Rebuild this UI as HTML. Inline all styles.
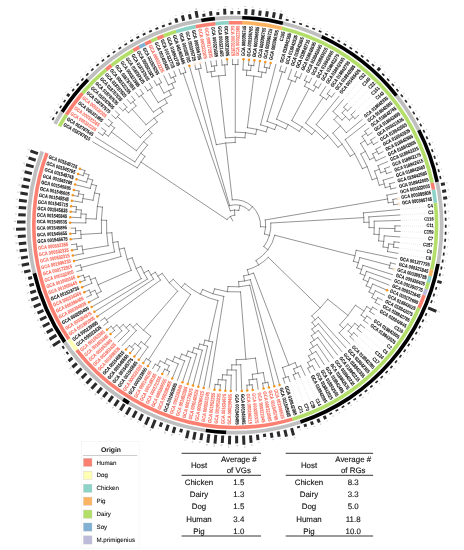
<!DOCTYPE html>
<html><head><meta charset="utf-8"><title>Phylogenetic tree</title>
<style>html,body{margin:0;padding:0;background:#fff}svg{display:block;font-family:"Liberation Sans",sans-serif;text-rendering:geometricPrecision}</style>
</head><body>
<svg width="464" height="550" viewBox="0 0 464 550">
<rect width="464" height="550" fill="#fff"/>
<g transform="translate(235.2 225.1) scale(0.9995 1.0045) translate(-235.2 -225.1)">
<path d="M45.15 152.91A203.3 203.3 0 0 0 67.35 339.81L70.32 337.78A199.7 199.7 0 0 1 48.52 154.19Z" fill="#FB8072"/>
<path d="M67.27 339.69A203.3 203.3 0 0 0 75.32 350.68L78.16 348.46A199.7 199.7 0 0 1 70.25 337.66Z" fill="#FFFFB3"/>
<path d="M75.24 350.57A203.3 203.3 0 0 0 293.14 419.97L292.12 416.52A199.7 199.7 0 0 1 78.07 348.35Z" fill="#FB8072"/>
<path d="M293.01 420.01A203.3 203.3 0 0 0 420.88 307.89L417.59 306.43A199.7 199.7 0 0 1 291.99 416.56Z" fill="#B3DE69"/>
<path d="M420.82 308.02A203.3 203.3 0 0 0 425.96 295.4L422.58 294.16A199.7 199.7 0 0 1 417.53 306.55Z" fill="#FB8072"/>
<path d="M425.91 295.54A203.3 203.3 0 0 0 428.18 289.04L424.77 287.91A199.7 199.7 0 0 1 422.53 294.29Z" fill="#BEBADA"/>
<path d="M428.14 289.17A203.3 203.3 0 0 0 430.2 282.61L426.74 281.59A199.7 199.7 0 0 1 424.72 288.04Z" fill="#B3DE69"/>
<path d="M430.16 282.74A203.3 203.3 0 0 0 432 276.11L428.51 275.2A199.7 199.7 0 0 1 426.71 281.72Z" fill="#8DD3C7"/>
<path d="M431.96 276.24A203.3 203.3 0 0 0 433.58 269.55L430.07 268.77A199.7 199.7 0 0 1 428.48 275.34Z" fill="#FDB462"/>
<path d="M433.55 269.69A203.3 203.3 0 0 0 437.24 202.53L433.67 202.93A199.7 199.7 0 0 1 430.04 268.9Z" fill="#B3DE69"/>
<path d="M437.26 202.68A203.3 203.3 0 0 0 435.3 189.19L431.76 189.83A199.7 199.7 0 0 1 433.68 203.07Z" fill="#8DD3C7"/>
<path d="M435.33 189.33A203.3 203.3 0 0 0 434 182.58L430.48 183.33A199.7 199.7 0 0 1 431.78 189.97Z" fill="#FB8072"/>
<path d="M434.03 182.71A203.3 203.3 0 0 0 282.03 27.27L281.2 30.77A199.7 199.7 0 0 1 430.51 183.47Z" fill="#B3DE69"/>
<path d="M282.16 27.3A203.3 203.3 0 0 0 241.99 21.91L241.87 25.51A199.7 199.7 0 0 1 281.33 30.8Z" fill="#FDB462"/>
<path d="M242.13 21.92A203.3 203.3 0 0 0 228.51 21.91L228.63 25.51A199.7 199.7 0 0 1 242.01 25.52Z" fill="#FB8072"/>
<path d="M228.65 21.91A203.3 203.3 0 0 0 215.05 22.8L215.41 26.38A199.7 199.7 0 0 1 228.77 25.5Z" fill="#8DD3C7"/>
<path d="M215.2 22.79A203.3 203.3 0 0 0 195.06 25.8L195.77 29.33A199.7 199.7 0 0 1 215.55 26.37Z" fill="#FB8072"/>
<path d="M195.2 25.77A203.3 203.3 0 0 0 175.46 30.78L176.52 34.22A199.7 199.7 0 0 1 195.91 29.3Z" fill="#8DD3C7"/>
<path d="M175.6 30.73A203.3 203.3 0 0 0 162.71 35.16L163.99 38.53A199.7 199.7 0 0 1 176.65 34.18Z" fill="#B3DE69"/>
<path d="M162.84 35.11A203.3 203.3 0 0 0 156.45 37.67L157.85 40.99A199.7 199.7 0 0 1 164.12 38.48Z" fill="#FB8072"/>
<path d="M156.58 37.62A203.3 203.3 0 0 0 150.28 40.39L151.78 43.66A199.7 199.7 0 0 1 157.98 40.94Z" fill="#B3DE69"/>
<path d="M150.41 40.33A203.3 203.3 0 0 0 144.2 43.3L145.81 46.52A199.7 199.7 0 0 1 151.91 43.6Z" fill="#FB8072"/>
<path d="M144.33 43.24A203.3 203.3 0 0 0 138.22 46.42L139.94 49.58A199.7 199.7 0 0 1 145.94 46.46Z" fill="#80B1D3"/>
<path d="M138.35 46.35A203.3 203.3 0 0 0 132.35 49.73L134.17 52.84A199.7 199.7 0 0 1 140.06 49.52Z" fill="#FB8072"/>
<path d="M132.47 49.66A203.3 203.3 0 0 0 110.06 64.88L112.27 67.72A199.7 199.7 0 0 1 134.29 52.77Z" fill="#B3DE69"/>
<path d="M110.17 64.79A203.3 203.3 0 0 0 104.81 69.12L107.12 71.88A199.7 199.7 0 0 1 112.38 67.63Z" fill="#FB8072"/>
<path d="M104.92 69.03A203.3 203.3 0 0 0 80.85 92.78L83.59 95.12A199.7 199.7 0 0 1 107.23 71.79Z" fill="#B3DE69"/>
<path d="M80.95 92.67A203.3 203.3 0 0 0 64.71 114.36L67.73 116.32A199.7 199.7 0 0 1 83.68 95.02Z" fill="#FB8072"/>
<path d="M64.79 114.24A203.3 203.3 0 0 0 57.74 125.9L60.89 127.66A199.7 199.7 0 0 1 67.8 116.2Z" fill="#B3DE69"/>
<path d="M40.36 151.16A208.4 208.4 0 0 0 32.49 273.49L36.09 272.63A204.7 204.7 0 0 1 43.82 152.48Z" fill="#BFBFBF"/>
<path d="M32.48 273.42A208.4 208.4 0 0 0 63.14 342.69L66.2 340.6A204.7 204.7 0 0 1 36.08 272.56Z" fill="#000"/>
<path d="M63.1 342.63A208.4 208.4 0 0 0 122.1 400.14L124.11 397.03A204.7 204.7 0 0 1 66.16 340.54Z" fill="#BFBFBF"/>
<path d="M122.04 400.1A208.4 208.4 0 0 0 128.03 403.83L129.93 400.66A204.7 204.7 0 0 1 124.05 396.99Z" fill="#000"/>
<path d="M127.97 403.79A208.4 208.4 0 0 0 205.61 431.39L206.13 427.73A204.7 204.7 0 0 1 129.87 400.62Z" fill="#BFBFBF"/>
<path d="M205.53 431.38A208.4 208.4 0 0 0 226.32 433.31L226.47 429.61A204.7 204.7 0 0 1 206.06 427.72Z" fill="#000"/>
<path d="M226.24 433.31A208.4 208.4 0 0 0 301.12 422.8L299.95 419.29A204.7 204.7 0 0 1 226.4 429.61Z" fill="#BFBFBF"/>
<path d="M301.05 422.82A208.4 208.4 0 0 0 439.96 263.9L436.32 263.21A204.7 204.7 0 0 1 299.88 419.31Z" fill="#000"/>
<path d="M439.94 263.97A208.4 208.4 0 0 0 439.01 181.58L435.39 182.35A204.7 204.7 0 0 1 436.31 263.28Z" fill="#BFBFBF"/>
<path d="M439.02 181.65A208.4 208.4 0 0 0 420.43 129.6L417.14 131.29A204.7 204.7 0 0 1 435.4 182.42Z" fill="#000"/>
<path d="M420.46 129.66A208.4 208.4 0 0 0 397.94 94.92L395.05 97.23A204.7 204.7 0 0 1 417.17 131.35Z" fill="#BFBFBF"/>
<path d="M397.98 94.98A208.4 208.4 0 0 0 322.34 35.79L320.8 39.16A204.7 204.7 0 0 1 395.09 97.29Z" fill="#000"/>
<path d="M322.41 35.82A208.4 208.4 0 0 0 283.27 22.32L282.42 25.92A204.7 204.7 0 0 1 320.86 39.19Z" fill="#BFBFBF"/>
<path d="M283.34 22.34A208.4 208.4 0 0 0 242.16 16.82L242.04 20.51A204.7 204.7 0 0 1 282.49 25.94Z" fill="#000"/>
<path d="M242.23 16.82A208.4 208.4 0 0 0 214.62 17.72L214.99 21.4A204.7 204.7 0 0 1 242.11 20.52Z" fill="#BFBFBF"/>
<path d="M214.69 17.71A208.4 208.4 0 0 0 200.85 19.55L201.46 23.2A204.7 204.7 0 0 1 215.06 21.39Z" fill="#000"/>
<path d="M200.92 19.54A208.4 208.4 0 0 0 86.37 79.22L89.01 81.81A204.7 204.7 0 0 1 201.53 23.19Z" fill="#BFBFBF"/>
<path d="M86.42 79.17A208.4 208.4 0 0 0 60.43 111.58L63.53 113.6A204.7 204.7 0 0 1 89.06 81.76Z" fill="#000"/>
<path d="M60.47 111.52A208.4 208.4 0 0 0 53.33 123.35L56.56 125.16A204.7 204.7 0 0 1 63.57 113.54Z" fill="#BFBFBF"/>
<path d="M37.84 153.93L30.31 151.22M35.59 160.51L28.45 158.2M33.56 167.17L25.87 164.96M31.75 173.89L24.47 172.06M30.16 180.66L23.32 179.18M28.8 187.49L21.42 186.14M27.67 194.35L20.25 193.25M26.76 201.25L18.81 200.34M26.08 208.17L18.61 207.57M25.64 215.12L18.15 214.76M25.42 222.07L16.92 221.95M25.44 229.03L15.94 229.21M25.68 235.98L17.69 236.4M26.16 242.93L18.69 243.56M26.86 249.85L19.42 250.73M27.8 256.74L20.88 257.8M28.96 263.6L21.59 264.98M30.35 270.42L24.01 271.82M31.97 277.19L28.09 278.18M33.81 283.9L29.3 285.22M35.87 290.54L30.17 292.42M38.15 297.12L31.1 299.69M40.64 303.61L33.69 306.42M43.36 310.02L37.41 312.65M46.28 316.34L39.97 319.38M49.41 322.55L42.76 326.04M52.74 328.66L46.65 332.11M56.27 334.65L49.45 338.83M60.01 340.53L52.82 345.26M63.93 346.27L62.3 347.43M68.04 351.88L66.45 353.09M72.34 357.36L68.46 360.51M76.81 362.69L72.28 366.62M81.46 367.86L76.33 372.62M86.28 372.88L81.67 377.46M91.26 377.74L86.46 382.83M96.4 382.43L91.44 388.05M101.7 386.94L97.24 392.34M107.14 391.28L103.17 396.43M112.72 395.44L108.63 401.12M118.43 399.4L114.54 405.22M124.28 403.18L120.31 409.55M130.25 406.76L126.24 413.69M136.33 410.14L132.79 416.76M142.52 413.32L139.43 419.6M148.81 416.29L145.43 423.76M155.2 419.05L151.77 427.37M161.67 421.59L160.06 425.9M168.23 423.92L166.22 429.89M174.86 426.04L173.05 432.07M181.55 427.93L180.61 431.5M188.31 429.59L186.54 437.29M195.12 431.04L193.63 438.69M201.97 432.25L200.86 439.16M208.86 433.24L207.78 441.77M215.77 434L214.98 442.56M222.71 434.53L222.26 442.01M229.66 434.83L229.43 443.42M236.62 434.9L236.67 442.4M243.58 434.73L243.93 443.73M250.52 434.34L251.07 441.82M257.45 433.72L258.02 439.09M264.36 432.86L264.8 436.03M271.23 431.78L272.09 436.71M278.07 430.47L279.17 435.76M284.85 428.94L286.51 435.74M291.58 427.18L293.6 434.41M298.25 425.2L298.86 427.11M304.85 423L305.85 425.83M311.38 420.58L312.65 423.84M317.82 417.95L319.39 421.62M324.17 415.1L325.65 418.27M330.42 412.05L331.19 413.56M336.57 408.79L337.39 410.27M342.6 405.32L343.47 406.78M348.52 401.66L349.44 403.09M354.31 397.81L355.28 399.21M359.97 393.76L360.98 395.13M365.5 389.53L366.55 390.87M370.88 385.12L371.98 386.42M376.11 380.54L377.25 381.79M381.19 375.78L382.37 377M386.1 370.85L387.33 372.03M390.85 365.77L392.12 366.91M395.43 360.53L396.73 361.63M399.84 355.14L401.17 356.2M404.06 349.61L405.43 350.62M408.09 343.94L409.49 344.91M411.94 338.14L413.37 339.06M415.59 332.22L417.05 333.09M419.04 326.18L420.53 327M422.29 320.03L423.81 320.8M425.34 313.77L426.88 314.49M428.18 307.42L436.45 310.95M430.8 300.97L432.38 301.59M433.21 294.45L434.81 295.01M435.4 287.84L437.02 288.35M437.37 281.17L441.71 282.37M439.12 274.43L440.77 274.83M440.64 267.65L442.31 267.99M441.94 260.81L443.61 261.1M443.01 253.93L444.69 254.17M443.85 247.03L445.54 247.21M444.46 240.1L446.16 240.22M444.85 233.15L446.54 233.21M445 226.19L446.7 226.2M444.92 219.23L446.62 219.19M444.61 212.28L446.31 212.18M444.07 205.35L445.76 205.19M443.3 198.43L447.27 197.92M442.3 191.55L446.25 190.91M441.07 184.7L445 183.93M439.62 177.89L441.28 177.51M437.94 171.14L439.58 170.7M436.04 164.45L437.67 163.95M433.92 157.82L435.53 157.27M431.58 151.27L433.17 150.67M429.02 144.8L430.59 144.14M426.25 138.41L427.8 137.71M423.27 132.12L424.8 131.37M420.09 125.94L421.58 125.14M416.7 119.86L418.17 119.01M413.11 113.9L414.55 113M409.32 108.06L410.73 107.12M405.35 102.35L406.72 101.36M401.18 96.78L402.53 95.74M396.84 91.35L398.14 90.26M392.31 86.06L393.58 84.93M387.61 80.93L388.85 79.76M382.75 75.95L383.94 74.74M377.72 71.14L380.1 68.57M372.54 66.5L373.65 65.21M367.2 62.03L368.27 60.71M361.72 57.74L362.75 56.39M356.1 53.64L357.08 52.25M350.35 49.73L351.29 48.31M344.47 46L345.36 44.55M338.47 42.48L339.31 41M332.36 39.15L333.15 37.65M326.14 36.04L326.88 34.5M319.82 33.12L320.51 31.57M313.41 30.42L314.04 28.85M306.91 27.94L307.49 26.34M300.33 25.67L300.86 24.05M293.69 23.62L294.16 21.98M286.97 21.79L287.39 20.14M280.2 20.18L281.42 14.62M273.38 18.8L274.42 13.2M266.52 17.65L267.34 12.21M259.62 16.73L260.23 11.56M252.7 16.03L253.18 10.35M245.76 15.57L246.04 9.87M238.8 15.33L238.86 11.93M231.85 15.33L231.79 11.93M224.89 15.55L224.61 9.76M217.95 16.01L217.7 13.02M211.02 16.7L210.51 12.23M204.13 17.61L203.68 14.65M197.26 18.76L196 11.87M190.44 20.13L189.38 15.24M183.67 21.73L182.32 16.4M176.95 23.55L175.71 19.22M170.3 25.59L169.68 23.69M163.72 27.85L163.04 25.97M157.22 30.33L156.48 28.47M150.81 33.02L150 31.19M144.48 35.93L143.62 34.12M138.26 39.04L137.34 37.27M132.14 42.36L131.16 40.61M126.14 45.87L125.26 44.42M120.26 49.59L119.33 48.17M114.5 53.5L113.52 52.11M108.88 57.59L107.85 56.24M103.39 61.88L102.32 60.55M98.05 66.34L96.94 65.05M92.86 70.97L91.71 69.72M87.83 75.78L86.63 74.57M82.96 80.74L81.72 79.58M78.25 85.87L76.98 84.74M73.72 91.15L72.42 90.07M69.37 96.58L67 94.74M65.2 102.15L63.82 101.16M61.22 107.86L59.81 106.91M57.43 113.69L55.98 112.79M53.83 119.65L52.36 118.79" stroke="#2b2b2b" stroke-width="3.0" fill="none"/>
<g font-size="2" fill="#777" text-anchor="middle" dominant-baseline="central"><text x="28.25" y="150.47" transform="rotate(19.83 28.25 150.47)">13</text><text x="26.36" y="157.53" transform="rotate(17.93 26.36 157.53)">12</text><text x="23.75" y="164.35" transform="rotate(16.03 23.75 164.35)">13</text><text x="22.34" y="171.52" transform="rotate(14.13 22.34 171.52)">12</text><text x="21.17" y="178.71" transform="rotate(12.23 21.17 178.71)">11</text><text x="19.26" y="185.75" transform="rotate(10.33 19.26 185.75)">12</text><text x="18.07" y="192.93" transform="rotate(8.43 18.07 192.93)">12</text><text x="16.63" y="200.09" transform="rotate(6.53 16.63 200.09)">13</text><text x="16.42" y="207.39" transform="rotate(4.63 16.42 207.39)">12</text><text x="15.95" y="214.66" transform="rotate(2.73 15.95 214.66)">12</text><text x="14.72" y="221.92" transform="rotate(0.83 14.72 221.92)">14</text><text x="13.74" y="229.25" transform="rotate(-1.07 13.74 229.25)">15</text><text x="15.5" y="236.51" transform="rotate(-2.97 15.5 236.51)">13</text><text x="16.49" y="243.75" transform="rotate(-4.87 16.49 243.75)">12</text><text x="17.23" y="250.99" transform="rotate(-6.77 17.23 250.99)">12</text><text x="18.71" y="258.13" transform="rotate(-8.67 18.71 258.13)">11</text><text x="19.43" y="265.38" transform="rotate(-10.57 19.43 265.38)">12</text><text x="21.86" y="272.3" transform="rotate(-12.48 21.86 272.3)">10</text><text x="25.96" y="278.73" transform="rotate(-14.38 25.96 278.73)">6</text><text x="27.18" y="285.83" transform="rotate(-16.28 27.18 285.83)">8</text><text x="28.08" y="293.1" transform="rotate(-18.18 28.08 293.1)">10</text><text x="29.04" y="300.45" transform="rotate(-20.08 29.04 300.45)">12</text><text x="31.65" y="307.24" transform="rotate(-21.98 31.65 307.24)">12</text><text x="35.4" y="313.54" transform="rotate(-23.88 35.4 313.54)">10</text><text x="37.99" y="320.34" transform="rotate(-25.78 37.99 320.34)">11</text><text x="40.82" y="327.06" transform="rotate(-27.68 40.82 327.06)">12</text><text x="44.74" y="333.2" transform="rotate(-29.58 44.74 333.2)">11</text><text x="47.58" y="339.98" transform="rotate(-31.48 47.58 339.98)">13</text><text x="50.99" y="346.47" transform="rotate(-33.38 50.99 346.47)">14</text><text x="60.5" y="348.7" transform="rotate(-35.28 60.5 348.7)">3</text><text x="64.7" y="354.42" transform="rotate(-37.18 64.7 354.42)">3</text><text x="66.75" y="361.9" transform="rotate(-39.08 66.75 361.9)">8</text><text x="70.62" y="368.06" transform="rotate(-40.98 70.62 368.06)">10</text><text x="74.72" y="374.12" transform="rotate(-42.88 74.72 374.12)">11</text><text x="80.11" y="379.01" transform="rotate(-44.78 80.11 379.01)">10</text><text x="84.95" y="384.43" transform="rotate(-46.68 84.95 384.43)">11</text><text x="89.99" y="389.7" transform="rotate(-48.58 89.99 389.7)">12</text><text x="95.84" y="394.04" transform="rotate(-50.48 95.84 394.04)">11</text><text x="101.83" y="398.17" transform="rotate(-52.38 101.83 398.17)">10</text><text x="107.35" y="402.91" transform="rotate(-54.28 107.35 402.91)">11</text><text x="113.31" y="407.05" transform="rotate(-56.18 113.31 407.05)">11</text><text x="119.15" y="411.41" transform="rotate(-58.08 119.15 411.41)">12</text><text x="125.14" y="415.59" transform="rotate(-59.98 125.14 415.59)">13</text><text x="131.76" y="418.7" transform="rotate(-61.88 131.76 418.7)">12</text><text x="138.45" y="421.57" transform="rotate(-63.78 138.45 421.57)">11</text><text x="144.53" y="425.77" transform="rotate(-65.68 144.53 425.77)">13</text><text x="150.93" y="429.4" transform="rotate(-67.58 150.93 429.4)">14</text><text x="159.29" y="427.96" transform="rotate(-69.48 159.29 427.96)">7</text><text x="165.52" y="431.98" transform="rotate(-71.38 165.52 431.98)">10</text><text x="172.41" y="434.18" transform="rotate(-73.28 172.41 434.18)">10</text><text x="180.05" y="433.63" transform="rotate(-75.19 180.05 433.63)">6</text><text x="186.05" y="439.44" transform="rotate(-77.09 186.05 439.44)">13</text><text x="193.21" y="440.85" transform="rotate(-78.99 193.21 440.85)">12</text><text x="200.51" y="441.34" transform="rotate(-80.89 200.51 441.34)">11</text><text x="207.5" y="443.95" transform="rotate(-82.79 207.5 443.95)">14</text><text x="214.77" y="444.75" transform="rotate(-84.69 214.77 444.75)">14</text><text x="222.13" y="444.21" transform="rotate(-86.59 222.13 444.21)">12</text><text x="229.38" y="445.62" transform="rotate(-88.49 229.38 445.62)">14</text><text x="236.68" y="444.59" transform="rotate(-270.39 236.68 444.59)">12</text><text x="244.02" y="445.92" transform="rotate(-272.29 244.02 445.92)">14</text><text x="251.23" y="444.01" transform="rotate(-274.19 251.23 444.01)">12</text><text x="258.26" y="441.27" transform="rotate(-276.09 258.26 441.27)">9</text><text x="265.11" y="438.21" transform="rotate(-277.99 265.11 438.21)">5</text><text x="272.47" y="438.88" transform="rotate(-279.89 272.47 438.88)">8</text><text x="279.62" y="437.91" transform="rotate(-281.79 279.62 437.91)">9</text><text x="287.03" y="437.88" transform="rotate(-283.69 287.03 437.88)">11</text><text x="294.19" y="436.52" transform="rotate(-285.59 294.19 436.52)">12</text><text x="299.52" y="429.21" transform="rotate(-287.49 299.52 429.21)">3</text><text x="306.58" y="427.9" transform="rotate(-289.39 306.58 427.9)">5</text><text x="313.45" y="425.89" transform="rotate(-291.29 313.45 425.89)">6</text><text x="320.26" y="423.65" transform="rotate(-293.19 320.26 423.65)">6</text><text x="326.59" y="420.26" transform="rotate(-295.09 326.59 420.26)">6</text><text x="332.19" y="415.52" transform="rotate(-296.99 332.19 415.52)">3</text><text x="338.45" y="412.2" transform="rotate(-298.89 338.45 412.2)">3</text><text x="344.6" y="408.67" transform="rotate(-300.79 344.6 408.67)">3</text><text x="350.63" y="404.95" transform="rotate(-302.69 350.63 404.95)">3</text><text x="356.53" y="401.02" transform="rotate(-304.59 356.53 401.02)">3</text><text x="362.29" y="396.9" transform="rotate(-306.49 362.29 396.9)">3</text><text x="367.92" y="392.59" transform="rotate(-308.39 367.92 392.59)">3</text><text x="373.4" y="388.1" transform="rotate(-310.29 373.4 388.1)">3</text><text x="378.73" y="383.42" transform="rotate(-312.19 378.73 383.42)">3</text><text x="383.9" y="378.58" transform="rotate(-314.09 383.9 378.58)">3</text><text x="388.91" y="373.56" transform="rotate(-315.99 388.91 373.56)">3</text><text x="393.75" y="368.38" transform="rotate(-317.9 393.75 368.38)">3</text><text x="398.41" y="363.05" transform="rotate(-319.8 398.41 363.05)">3</text><text x="402.9" y="357.56" transform="rotate(-321.7 402.9 357.56)">3</text><text x="407.2" y="351.93" transform="rotate(-323.6 407.2 351.93)">3</text><text x="411.31" y="346.15" transform="rotate(-325.5 411.31 346.15)">3</text><text x="415.23" y="340.25" transform="rotate(-327.4 415.23 340.25)">3</text><text x="418.94" y="334.21" transform="rotate(-329.3 418.94 334.21)">3</text><text x="422.46" y="328.06" transform="rotate(-331.2 422.46 328.06)">3</text><text x="425.77" y="321.79" transform="rotate(-333.1 425.77 321.79)">3</text><text x="428.87" y="315.42" transform="rotate(-335 428.87 315.42)">3</text><text x="438.48" y="311.81" transform="rotate(-336.9 438.48 311.81)">14</text><text x="434.44" y="302.38" transform="rotate(-338.8 434.44 302.38)">3</text><text x="436.89" y="295.74" transform="rotate(-340.7 436.89 295.74)">3</text><text x="439.12" y="289.01" transform="rotate(-342.6 439.12 289.01)">3</text><text x="443.83" y="282.96" transform="rotate(-344.5 443.83 282.96)">7</text><text x="442.91" y="275.35" transform="rotate(-346.4 442.91 275.35)">3</text><text x="444.46" y="268.44" transform="rotate(-348.3 444.46 268.44)">3</text><text x="445.78" y="261.47" transform="rotate(-350.2 445.78 261.47)">3</text><text x="446.87" y="254.47" transform="rotate(-352.1 446.87 254.47)">3</text><text x="447.73" y="247.43" transform="rotate(-354 447.73 247.43)">3</text><text x="448.35" y="240.38" transform="rotate(-355.9 448.35 240.38)">3</text><text x="448.74" y="233.3" transform="rotate(-357.8 448.74 233.3)">3</text><text x="448.9" y="226.21" transform="rotate(-359.7 448.9 226.21)">3</text><text x="448.82" y="219.13" transform="rotate(-361.6 448.82 219.13)">3</text><text x="448.5" y="212.05" transform="rotate(-363.5 448.5 212.05)">3</text><text x="447.95" y="204.98" transform="rotate(-365.4 447.95 204.98)">3</text><text x="449.45" y="197.64" transform="rotate(-367.3 449.45 197.64)">6</text><text x="448.42" y="190.55" transform="rotate(-369.2 448.42 190.55)">6</text><text x="447.16" y="183.5" transform="rotate(-371.1 447.16 183.5)">6</text><text x="443.42" y="177.01" transform="rotate(-373 443.42 177.01)">3</text><text x="441.71" y="170.14" transform="rotate(-374.9 441.71 170.14)">3</text><text x="439.77" y="163.32" transform="rotate(-376.8 439.77 163.32)">3</text><text x="437.61" y="156.57" transform="rotate(-378.7 437.61 156.57)">3</text><text x="435.23" y="149.89" transform="rotate(-380.6 435.23 149.89)">3</text><text x="432.63" y="143.3" transform="rotate(-382.51 432.63 143.3)">3</text><text x="429.8" y="136.8" transform="rotate(-384.41 429.8 136.8)">3</text><text x="426.77" y="130.4" transform="rotate(-386.31 426.77 130.4)">3</text><text x="423.52" y="124.1" transform="rotate(-388.21 423.52 124.1)">3</text><text x="420.07" y="117.91" transform="rotate(-390.11 420.07 117.91)">3</text><text x="416.41" y="111.83" transform="rotate(-392.01 416.41 111.83)">3</text><text x="412.56" y="105.89" transform="rotate(-393.91 412.56 105.89)">3</text><text x="408.51" y="100.07" transform="rotate(-395.81 408.51 100.07)">3</text><text x="404.27" y="94.39" transform="rotate(-397.71 404.27 94.39)">3</text><text x="399.84" y="88.86" transform="rotate(-399.61 399.84 88.86)">3</text><text x="395.23" y="83.48" transform="rotate(-401.51 395.23 83.48)">3</text><text x="390.45" y="78.25" transform="rotate(-403.41 390.45 78.25)">3</text><text x="385.49" y="73.18" transform="rotate(-405.31 385.49 73.18)">3</text><text x="381.59" y="66.96" transform="rotate(-407.21 381.59 66.96)">6</text><text x="375.09" y="63.55" transform="rotate(-409.11 375.09 63.55)">3</text><text x="369.66" y="59" transform="rotate(-411.01 369.66 59)">3</text><text x="364.08" y="54.63" transform="rotate(-412.91 364.08 54.63)">3</text><text x="358.35" y="50.45" transform="rotate(-414.81 358.35 50.45)">3</text><text x="352.49" y="46.47" transform="rotate(-416.71 352.49 46.47)">3</text><text x="346.5" y="42.67" transform="rotate(-418.61 346.5 42.67)">3</text><text x="340.39" y="39.08" transform="rotate(-420.51 340.39 39.08)">3</text><text x="334.17" y="35.7" transform="rotate(-422.41 334.17 35.7)">3</text><text x="327.83" y="32.52" transform="rotate(-424.31 327.83 32.52)">3</text><text x="321.4" y="29.55" transform="rotate(-426.21 321.4 29.55)">3</text><text x="314.86" y="26.8" transform="rotate(-428.11 314.86 26.8)">3</text><text x="308.25" y="24.27" transform="rotate(-430.01 308.25 24.27)">3</text><text x="301.55" y="21.96" transform="rotate(-431.91 301.55 21.96)">3</text><text x="294.77" y="19.87" transform="rotate(-433.81 294.77 19.87)">3</text><text x="287.93" y="18.01" transform="rotate(-435.71 287.93 18.01)">3</text><text x="281.9" y="12.47" transform="rotate(-437.61 281.9 12.47)">9</text><text x="274.82" y="11.04" transform="rotate(-439.51 274.82 11.04)">9</text><text x="267.67" y="10.04" transform="rotate(-441.41 267.67 10.04)">9</text><text x="260.48" y="9.38" transform="rotate(-443.31 260.48 9.38)">8</text><text x="253.36" y="8.16" transform="rotate(-445.22 253.36 8.16)">9</text><text x="246.16" y="7.68" transform="rotate(-447.12 246.16 7.68)">9</text><text x="238.9" y="9.73" transform="rotate(-449.02 238.9 9.73)">5</text><text x="231.76" y="9.73" transform="rotate(-270.92 231.76 9.73)">5</text><text x="224.5" y="7.56" transform="rotate(-272.82 224.5 7.56)">9</text><text x="217.52" y="10.83" transform="rotate(-274.72 217.52 10.83)">5</text><text x="210.25" y="10.04" transform="rotate(-276.62 210.25 10.04)">7</text><text x="203.36" y="12.47" transform="rotate(-278.52 203.36 12.47)">5</text><text x="195.6" y="9.71" transform="rotate(-280.42 195.6 9.71)">11</text><text x="188.91" y="13.1" transform="rotate(-282.32 188.91 13.1)">8</text><text x="181.78" y="14.26" transform="rotate(-284.22 181.78 14.26)">9</text><text x="175.09" y="17.11" transform="rotate(-286.12 175.09 17.11)">7</text><text x="169" y="21.6" transform="rotate(-288.02 169 21.6)">3</text><text x="162.29" y="23.9" transform="rotate(-289.92 162.29 23.9)">3</text><text x="155.66" y="26.43" transform="rotate(-291.82 155.66 26.43)">3</text><text x="149.12" y="29.18" transform="rotate(-293.72 149.12 29.18)">3</text><text x="142.67" y="32.14" transform="rotate(-295.62 142.67 32.14)">3</text><text x="136.32" y="35.31" transform="rotate(-297.52 136.32 35.31)">3</text><text x="130.08" y="38.7" transform="rotate(-299.42 130.08 38.7)">3</text><text x="124.11" y="42.54" transform="rotate(-301.32 124.11 42.54)">3</text><text x="118.12" y="46.33" transform="rotate(-303.22 118.12 46.33)">3</text><text x="112.26" y="50.31" transform="rotate(-305.12 112.26 50.31)">3</text><text x="106.53" y="54.48" transform="rotate(-307.02 106.53 54.48)">3</text><text x="100.94" y="58.84" transform="rotate(-308.92 100.94 58.84)">3</text><text x="95.5" y="63.38" transform="rotate(-310.82 95.5 63.38)">3</text><text x="90.22" y="68.11" transform="rotate(-312.72 90.22 68.11)">3</text><text x="85.09" y="73" transform="rotate(-314.62 85.09 73)">3</text><text x="80.13" y="78.06" transform="rotate(-316.52 80.13 78.06)">3</text><text x="75.34" y="83.28" transform="rotate(-318.42 75.34 83.28)">3</text><text x="70.72" y="88.66" transform="rotate(-320.32 70.72 88.66)">3</text><text x="65.26" y="93.4" transform="rotate(-322.22 65.26 93.4)">5</text><text x="62.04" y="99.87" transform="rotate(-324.12 62.04 99.87)">3</text><text x="57.98" y="105.68" transform="rotate(-326.02 57.98 105.68)">3</text><text x="54.12" y="111.62" transform="rotate(-327.93 54.12 111.62)">3</text><text x="50.46" y="117.69" transform="rotate(-329.83 50.46 117.69)">3</text></g>
<path d="M289.98 380.74L298.17 404.01M295.11 378.84L304.07 401.83M300.18 376.77L309.89 399.45M305.17 374.53L315.63 396.87M353.88 339.73L371.63 356.87M357.62 335.73L374.25 350.76M361.22 331.61L381.78 348.99M364.68 327.37L385.81 344.06M374.2 314.01L393.09 326.09M397.79 253.18L424.32 257.77M398.63 247.78L425.3 251.48M399.3 242.35L421.59 244.69M399.78 236.89L426.63 238.82M400.08 231.43L422.48 232.29M400.2 225.96L424.87 226.09M400.14 220.49L422.55 219.86M399.89 215.02L426.77 213.38M399.47 209.56L426.27 207.03M358.76 115.75L375.55 100.89M355.07 111.71L371.36 96.31M351.24 107.8L368.59 90.26M347.29 104.02L362.52 87.56M343.21 100.37L359.36 81.72M275.92 65.2L281.45 43.48" stroke="#bdbdbd" stroke-width="0.45" stroke-dasharray="0.7 1.3" fill="none"/>
<g font-size="5.0" font-weight="bold" dominant-baseline="central" stroke-width="0.08"><g fill="#0d0d0d" stroke="#0d0d0d"><text transform="translate(48.38 157.73) rotate(19.83) scale(0.81 1)">GCA 001545725</text><text transform="translate(46.24 163.96) rotate(17.93) scale(0.81 1)">GCA 001545795</text><text transform="translate(44.32 170.26) rotate(16.03) scale(0.81 1)">GCA 001545745</text><text transform="translate(42.61 176.62) rotate(14.13) scale(0.81 1)">GCA 001545785</text><text transform="translate(41.11 183.03) rotate(12.23) scale(0.81 1)">GCA 001545695</text><text transform="translate(39.82 189.49) rotate(10.33) scale(0.81 1)">GCA 001545605</text><text transform="translate(38.74 195.99) rotate(8.43) scale(0.81 1)">GCA 001545545</text><text transform="translate(37.89 202.52) rotate(6.53) scale(0.81 1)">GCA 001545715</text><text transform="translate(37.25 209.08) rotate(4.63) scale(0.81 1)">GCA 001545835</text><text transform="translate(36.82 215.65) rotate(2.73) scale(0.81 1)">GCA 001545845</text><text transform="translate(36.62 222.23) rotate(0.83) scale(0.81 1)">GCA 001545535</text><text transform="translate(36.63 228.82) rotate(-1.07) scale(0.81 1)">GCA 001545895</text><text transform="translate(36.87 235.4) rotate(-2.97) scale(0.81 1)">GCA 001545655</text><text transform="translate(37.32 241.97) rotate(-4.87) scale(0.81 1)">GCA 001545675</text><text transform="translate(51.03 299.42) rotate(-21.98) scale(0.81 1)">GCA 001518735</text><text transform="translate(62.48 323.13) rotate(-29.58) scale(0.81 1)">GCA 000295405</text><text transform="translate(73.07 339.8) rotate(-35.28) scale(0.81 1)">GCA 000239095</text><text transform="translate(76.97 345.12) rotate(-37.18) scale(0.81 1)">GCA 000322425</text><text transform="translate(103.81 374.03) rotate(-48.58) scale(0.81 1)">GCA 001545815</text><text transform="translate(108.82 378.3) rotate(-50.48) scale(0.81 1)">GCA 001545555</text><text transform="translate(113.97 382.41) rotate(-52.38) scale(0.81 1)">GCA 001545775</text><text transform="translate(119.26 386.34) rotate(-54.28) scale(0.81 1)">GCA 001545685</text><text transform="translate(130.2 393.67) rotate(-58.08) scale(0.81 1)">GCA 000321865</text><text transform="translate(165.6 411.1) rotate(-69.48) scale(0.81 1)">GCA 001993665</text><text transform="translate(236.54 423.7) rotate(-270.39) scale(0.81 1)" text-anchor="end">GCA 001545495</text><text transform="translate(243.13 423.54) rotate(-272.29) scale(0.81 1)" text-anchor="end">GCA 001545995</text><text transform="translate(288.57 416.39) rotate(-285.59) scale(0.81 1)" text-anchor="end">GCA 001545865</text><text transform="translate(294.89 414.52) rotate(-287.49) scale(0.81 1)" text-anchor="end">GCA 018842985</text><text transform="translate(301.14 412.43) rotate(-289.39) scale(0.81 1)" text-anchor="end">C71</text><text transform="translate(307.31 410.15) rotate(-291.29) scale(0.81 1)" text-anchor="end">C70</text><text transform="translate(313.41 407.65) rotate(-293.19) scale(0.81 1)" text-anchor="end">C29</text><text transform="translate(319.42 404.96) rotate(-295.09) scale(0.81 1)" text-anchor="end">C14</text><text transform="translate(325.34 402.07) rotate(-296.99) scale(0.81 1)" text-anchor="end">GCA 018842985</text><text transform="translate(331.16 398.98) rotate(-298.89) scale(0.81 1)" text-anchor="end">GCA 018842025</text><text transform="translate(336.87 395.7) rotate(-300.79) scale(0.81 1)" text-anchor="end">GCA 018842545</text><text transform="translate(342.47 392.24) rotate(-302.69) scale(0.81 1)" text-anchor="end">GCA 018842485</text><text transform="translate(347.95 388.59) rotate(-304.59) scale(0.81 1)" text-anchor="end">GCA 018842575</text><text transform="translate(353.31 384.76) rotate(-306.49) scale(0.81 1)" text-anchor="end">GCA 018842235</text><text transform="translate(358.54 380.76) rotate(-308.39) scale(0.81 1)" text-anchor="end">GCA 018842215</text><text transform="translate(363.64 376.58) rotate(-310.29) scale(0.81 1)" text-anchor="end">GCA 018842355</text><text transform="translate(368.59 372.24) rotate(-312.19) scale(0.81 1)" text-anchor="end">GCA 018842385</text><text transform="translate(373.39 367.73) rotate(-314.09) scale(0.81 1)" text-anchor="end">GCA 018842395</text><text transform="translate(378.05 363.07) rotate(-315.99) scale(0.81 1)" text-anchor="end">C17</text><text transform="translate(382.54 358.26) rotate(-317.9) scale(0.81 1)" text-anchor="end">C134</text><text transform="translate(386.88 353.3) rotate(-319.8) scale(0.81 1)" text-anchor="end">C5</text><text transform="translate(391.05 348.2) rotate(-321.7) scale(0.81 1)" text-anchor="end">C2</text><text transform="translate(395.04 342.96) rotate(-323.6) scale(0.81 1)" text-anchor="end">GCA 018842525</text><text transform="translate(398.86 337.6) rotate(-325.5) scale(0.81 1)" text-anchor="end">GCA 018842505</text><text transform="translate(402.5 332.11) rotate(-327.4) scale(0.81 1)" text-anchor="end">C136</text><text transform="translate(405.96 326.5) rotate(-329.3) scale(0.81 1)" text-anchor="end">GCA 018842845</text><text transform="translate(409.23 320.78) rotate(-331.2) scale(0.81 1)" text-anchor="end">GCA 018842785</text><text transform="translate(412.31 314.96) rotate(-333.1) scale(0.81 1)" text-anchor="end">GCA 018842075</text><text transform="translate(415.19 309.04) rotate(-335) scale(0.81 1)" text-anchor="end">GCA 018843025</text><text transform="translate(417.87 303.02) rotate(-336.9) scale(0.81 1)" text-anchor="end">GCA 000172655</text><text transform="translate(420.36 296.92) rotate(-338.8) scale(0.81 1)" text-anchor="end">GCA 000321645</text><text transform="translate(422.64 290.74) rotate(-340.7) scale(0.81 1)" text-anchor="end">GCA 001290775</text><text transform="translate(424.71 284.49) rotate(-342.6) scale(0.81 1)" text-anchor="end">GCA 000336405</text><text transform="translate(426.58 278.18) rotate(-344.5) scale(0.81 1)" text-anchor="end">GCA 000395785</text><text transform="translate(428.23 271.8) rotate(-346.4) scale(0.81 1)" text-anchor="end">GCA 000321845</text><text transform="translate(429.67 265.37) rotate(-348.3) scale(0.81 1)" text-anchor="end">GCA 001277795</text><text transform="translate(430.9 258.9) rotate(-350.2) scale(0.81 1)" text-anchor="end">C8</text><text transform="translate(431.92 252.39) rotate(-352.1) scale(0.81 1)" text-anchor="end">C6</text><text transform="translate(432.71 245.86) rotate(-354) scale(0.81 1)" text-anchor="end">C157</text><text transform="translate(433.29 239.3) rotate(-355.9) scale(0.81 1)" text-anchor="end">C7</text><text transform="translate(433.65 232.72) rotate(-357.8) scale(0.81 1)" text-anchor="end">C159</text><text transform="translate(433.8 226.13) rotate(-359.7) scale(0.81 1)" text-anchor="end">C11</text><text transform="translate(433.72 219.55) rotate(-361.6) scale(0.81 1)" text-anchor="end">C116</text><text transform="translate(433.43 212.97) rotate(-363.5) scale(0.81 1)" text-anchor="end">C3</text><text transform="translate(432.92 206.4) rotate(-365.4) scale(0.81 1)" text-anchor="end">C4</text><text transform="translate(432.19 199.86) rotate(-367.3) scale(0.81 1)" text-anchor="end">GCA 000395745</text><text transform="translate(431.24 193.34) rotate(-369.2) scale(0.81 1)" text-anchor="end">GCA 000395805</text><text transform="translate(430.08 186.85) rotate(-371.1) scale(0.81 1)" text-anchor="end">GCA 000322005</text><text transform="translate(428.71 180.41) rotate(-373) scale(0.81 1)" text-anchor="end">GCA 018842605</text><text transform="translate(427.12 174.02) rotate(-374.9) scale(0.81 1)" text-anchor="end">GCA 018842585</text><text transform="translate(425.32 167.68) rotate(-376.8) scale(0.81 1)" text-anchor="end">GCA 018842665</text><text transform="translate(423.31 161.41) rotate(-378.7) scale(0.81 1)" text-anchor="end">GCA 018842615</text><text transform="translate(421.1 155.21) rotate(-380.6) scale(0.81 1)" text-anchor="end">GCA 018842175</text><text transform="translate(418.68 149.08) rotate(-382.51) scale(0.81 1)" text-anchor="end">GCA 018842225</text><text transform="translate(416.05 143.04) rotate(-384.41) scale(0.81 1)" text-anchor="end">GCA 018842905</text><text transform="translate(413.23 137.09) rotate(-386.31) scale(0.81 1)" text-anchor="end">GCA 018842985</text><text transform="translate(410.22 131.23) rotate(-388.21) scale(0.81 1)" text-anchor="end">GCA 018842925</text><text transform="translate(407.01 125.48) rotate(-390.11) scale(0.81 1)" text-anchor="end">GCA 018842565</text><text transform="translate(403.61 119.84) rotate(-392.01) scale(0.81 1)" text-anchor="end">GCA 000431635</text><text transform="translate(400.03 114.31) rotate(-393.91) scale(0.81 1)" text-anchor="end">GCA 018842695</text><text transform="translate(396.26 108.91) rotate(-395.81) scale(0.81 1)" text-anchor="end">GCA 018842765</text><text transform="translate(392.32 103.63) rotate(-397.71) scale(0.81 1)" text-anchor="end">GCA 018842685</text><text transform="translate(388.21 98.49) rotate(-399.61) scale(0.81 1)" text-anchor="end">GCA 018842935</text><text transform="translate(383.92 93.48) rotate(-401.51) scale(0.81 1)" text-anchor="end">C143</text><text transform="translate(379.48 88.62) rotate(-403.41) scale(0.81 1)" text-anchor="end">C151</text><text transform="translate(374.87 83.91) rotate(-405.31) scale(0.81 1)" text-anchor="end">C22</text><text transform="translate(370.11 79.36) rotate(-407.21) scale(0.81 1)" text-anchor="end">C149</text><text transform="translate(365.21 74.97) rotate(-409.11) scale(0.81 1)" text-anchor="end">C52</text><text transform="translate(360.16 70.74) rotate(-411.01) scale(0.81 1)" text-anchor="end">GCA 001465425</text><text transform="translate(354.97 66.68) rotate(-412.91) scale(0.81 1)" text-anchor="end">GCA 018842685</text><text transform="translate(349.65 62.79) rotate(-414.81) scale(0.81 1)" text-anchor="end">GCA 018842795</text><text transform="translate(344.21 59.09) rotate(-416.71) scale(0.81 1)" text-anchor="end">GCA 018842535</text><text transform="translate(338.64 55.57) rotate(-418.61) scale(0.81 1)" text-anchor="end">GCA 018842275</text><text transform="translate(332.96 52.23) rotate(-420.51) scale(0.81 1)" text-anchor="end">GCA 018842945</text><text transform="translate(327.18 49.08) rotate(-422.41) scale(0.81 1)" text-anchor="end">GCA 018843015</text><text transform="translate(321.29 46.13) rotate(-424.31) scale(0.81 1)" text-anchor="end">GCA 018842005</text><text transform="translate(315.31 43.37) rotate(-426.21) scale(0.81 1)" text-anchor="end">GCA 018842695</text><text transform="translate(309.24 40.82) rotate(-428.11) scale(0.81 1)" text-anchor="end">GCA 018842715</text><text transform="translate(303.08 38.46) rotate(-430.01) scale(0.81 1)" text-anchor="end">GCA 018842665</text><text transform="translate(296.86 36.31) rotate(-431.91) scale(0.81 1)" text-anchor="end">GCA 018842925</text><text transform="translate(290.56 34.37) rotate(-433.81) scale(0.81 1)" text-anchor="end">GCA 018842155</text><text transform="translate(284.21 32.64) rotate(-435.71) scale(0.81 1)" text-anchor="end">C155</text><text transform="translate(277.8 31.12) rotate(-437.61) scale(0.81 1)" text-anchor="end">GCA 000396705</text><text transform="translate(271.34 29.82) rotate(-439.51) scale(0.81 1)" text-anchor="end">GCA 000396725</text><text transform="translate(264.85 28.73) rotate(-441.41) scale(0.81 1)" text-anchor="end">GCA 000396755</text><text transform="translate(258.32 27.85) rotate(-443.31) scale(0.81 1)" text-anchor="end">GCA 000396685</text><text transform="translate(251.77 27.19) rotate(-445.22) scale(0.81 1)" text-anchor="end">GCA 000396765</text><text transform="translate(245.19 26.75) rotate(-447.12) scale(0.81 1)" text-anchor="end">GCA 000396745</text><text transform="translate(225.44 26.74) rotate(-272.82) scale(0.81 1)">GCA 000321005</text><text transform="translate(218.87 27.17) rotate(-274.72) scale(0.81 1)">GCA 000321465</text><text transform="translate(212.32 27.82) rotate(-276.62) scale(0.81 1)">GCA 000321685</text><text transform="translate(192.83 31.07) rotate(-282.32) scale(0.81 1)">GCA 000396765</text><text transform="translate(186.42 32.58) rotate(-284.22) scale(0.81 1)">GCA 000395725</text><text transform="translate(180.06 34.31) rotate(-286.12) scale(0.81 1)">GCA 000395705</text><text transform="translate(173.77 36.24) rotate(-288.02) scale(0.81 1)">GCA 001465445</text><text transform="translate(167.54 38.38) rotate(-289.92) scale(0.81 1)">GCA 018842705</text><text transform="translate(161.38 40.73) rotate(-291.82) scale(0.81 1)">GCA 000322705</text><text transform="translate(155.31 43.28) rotate(-293.72) scale(0.81 1)">GCA 001405435</text><text transform="translate(143.43 48.97) rotate(-297.52) scale(0.81 1)">GCA 001525255</text><text transform="translate(137.64 52.11) rotate(-299.42) scale(0.81 1)">GCA 000321925</text><text transform="translate(131.96 55.44) rotate(-301.32) scale(0.81 1)">GCA 018787645</text><text transform="translate(126.39 58.96) rotate(-303.22) scale(0.81 1)">GCA 018787675</text><text transform="translate(120.94 62.66) rotate(-305.12) scale(0.81 1)">GCA 000321985</text><text transform="translate(115.62 66.54) rotate(-307.02) scale(0.81 1)">GCA 018787655</text><text transform="translate(110.43 70.59) rotate(-308.92) scale(0.81 1)">GCA 000322205</text><text transform="translate(105.37 74.81) rotate(-310.82) scale(0.81 1)">GCA 018787625</text><text transform="translate(100.46 79.2) rotate(-312.72) scale(0.81 1)">GCA 018787635</text><text transform="translate(95.7 83.75) rotate(-314.62) scale(0.81 1)">GCA 018787535</text><text transform="translate(91.09 88.45) rotate(-316.52) scale(0.81 1)">GCA 018787605</text><text transform="translate(86.63 93.31) rotate(-318.42) scale(0.81 1)">GCA 018787575</text><text transform="translate(78.22 103.44) rotate(-322.22) scale(0.81 1)">GCA 000321865</text><text transform="translate(66.92 119.64) rotate(-327.93) scale(0.81 1)">GCA 018787545</text><text transform="translate(63.51 125.28) rotate(-329.83) scale(0.81 1)">GCA 018787615</text></g><g fill="#F96C5E" stroke="#F96C5E" stroke-width="0.1"><text transform="translate(37.99 248.53) rotate(-6.77) scale(0.81 1)">GCA 000632355</text><text transform="translate(38.87 255.05) rotate(-8.67) scale(0.81 1)">GCA 000632335</text><text transform="translate(39.97 261.55) rotate(-10.57) scale(0.81 1)">GCA 000632315</text><text transform="translate(41.29 268) rotate(-12.48) scale(0.81 1)">GCA 001996235</text><text transform="translate(42.82 274.41) rotate(-14.38) scale(0.81 1)">GCA 000172915</text><text transform="translate(44.56 280.76) rotate(-16.28) scale(0.81 1)">GCA 000322405</text><text transform="translate(46.51 287.05) rotate(-18.18) scale(0.81 1)">GCA 001969545</text><text transform="translate(48.67 293.27) rotate(-20.08) scale(0.81 1)">GCA 001969645</text><text transform="translate(53.6 305.49) rotate(-23.88) scale(0.81 1)">GCA 000534365</text><text transform="translate(56.36 311.47) rotate(-25.78) scale(0.81 1)">GCA 000396405</text><text transform="translate(59.32 317.35) rotate(-27.68) scale(0.81 1)">GCA 000394835</text><text transform="translate(65.83 328.8) rotate(-31.48) scale(0.81 1)">GCA 000294875</text><text transform="translate(69.36 334.36) rotate(-33.38) scale(0.81 1)">GCA 001991905</text><text transform="translate(81.03 350.3) rotate(-39.08) scale(0.81 1)">GCA 001953385</text><text transform="translate(85.27 355.34) rotate(-40.98) scale(0.81 1)">GCA 001953445</text><text transform="translate(89.67 360.24) rotate(-42.88) scale(0.81 1)">GCA 001953465</text><text transform="translate(94.23 364.99) rotate(-44.78) scale(0.81 1)">GCA 001953425</text><text transform="translate(98.95 369.59) rotate(-46.68) scale(0.81 1)">GCA 001998935</text><text transform="translate(124.67 390.1) rotate(-56.18) scale(0.81 1)">GCA 000322205</text><text transform="translate(135.85 397.06) rotate(-59.98) scale(0.81 1)">GCA 000146155</text><text transform="translate(141.61 400.26) rotate(-61.88) scale(0.81 1)">GCA 000148185</text><text transform="translate(147.47 403.27) rotate(-63.78) scale(0.81 1)">GCA 000172155</text><text transform="translate(153.42 406.08) rotate(-65.68) scale(0.81 1)">GCA 000260555</text><text transform="translate(159.47 408.69) rotate(-67.58) scale(0.81 1)">GCA 000295855</text><text transform="translate(171.8 413.31) rotate(-71.38) scale(0.81 1)">GCA 000235845</text><text transform="translate(178.08 415.31) rotate(-73.28) scale(0.81 1)">GCA 001953285</text><text transform="translate(184.42 417.1) rotate(-75.19) scale(0.81 1)">GCA 000172675</text><text transform="translate(190.81 418.68) rotate(-77.09) scale(0.81 1)">GCA 000148625</text><text transform="translate(197.26 420.04) rotate(-78.99) scale(0.81 1)">GCA 000295415</text><text transform="translate(203.74 421.19) rotate(-80.89) scale(0.81 1)">GCA 000321545</text><text transform="translate(210.26 422.13) rotate(-82.79) scale(0.81 1)">GCA 001952255</text><text transform="translate(216.81 422.85) rotate(-84.69) scale(0.81 1)">GCA 001952235</text><text transform="translate(223.38 423.35) rotate(-86.59) scale(0.81 1)">GCA 001634675</text><text transform="translate(229.96 423.63) rotate(-88.49) scale(0.81 1)">GCA 000299495</text><text transform="translate(249.7 423.17) rotate(-274.19) scale(0.81 1)" text-anchor="end">GCA 000296215</text><text transform="translate(256.26 422.58) rotate(-276.09) scale(0.81 1)" text-anchor="end">GCA 000295375</text><text transform="translate(262.8 421.77) rotate(-277.99) scale(0.81 1)" text-anchor="end">GCA 000322345</text><text transform="translate(269.31 420.75) rotate(-279.89) scale(0.81 1)" text-anchor="end">GCA 000322085</text><text transform="translate(275.78 419.51) rotate(-281.79) scale(0.81 1)" text-anchor="end">GCA 001545795</text><text transform="translate(282.2 418.06) rotate(-283.69) scale(0.81 1)" text-anchor="end">GCA 001906515</text><text transform="translate(238.61 26.53) rotate(-449.02) scale(0.81 1)" text-anchor="end">GCA 000322385</text><text transform="translate(232.02 26.53) rotate(-270.92) scale(0.81 1)">GCA 000321925</text><text transform="translate(205.79 28.69) rotate(-278.52) scale(0.81 1)">GCA 000172835</text><text transform="translate(199.29 29.77) rotate(-280.42) scale(0.81 1)">GCA 000322105</text><text transform="translate(149.33 46.03) rotate(-295.62) scale(0.81 1)">GCA 000322235</text><text transform="translate(82.34 98.3) rotate(-320.32) scale(0.81 1)">GCA 000322305</text><text transform="translate(74.28 108.72) rotate(-324.12) scale(0.81 1)">GCA 000322265</text><text transform="translate(70.51 114.12) rotate(-326.02) scale(0.81 1)">GCA 000322225</text></g></g>
<path d="M234.74 215.21A9.9 9.9 0 0 0 226.96 219.61M234.74 215.21L234.5 210.05M238.76 210.46A15.07 15.07 0 0 0 230.3 210.85M238.76 210.46L239.98 205.43M249.12 210.41A20.24 20.24 0 0 0 229.58 205.66M249.12 210.41L252.68 206.66M260.56 226.67A25.41 25.41 0 0 0 232.27 199.86M260.56 226.67L265.72 226.99M264.48 233.93A30.58 30.58 0 0 0 265.34 219.96M264.48 233.93L269.43 235.42M263.8 246.54A35.75 35.75 0 0 0 270.89 223.04M263.8 246.54L267.94 249.65M256.02 260.33A40.92 40.92 0 0 0 274.85 235.21M256.02 260.33L258.65 264.78M247.36 269.56A46.09 46.09 0 0 0 268.29 257.19M247.36 269.56L248.72 274.54M243.69 275.65A51.26 51.26 0 0 0 253.61 272.94M243.69 275.65L244.55 280.75M238.63 281.43A56.43 56.43 0 0 0 250.37 279.45M238.63 281.43L238.94 286.59M227.99 286.28A61.6 61.6 0 0 0 249.78 284.95M227.99 286.28L227.39 291.41M214.55 288.6A66.77 66.77 0 0 0 240.52 291.66M214.55 288.6L212.95 293.51M202.63 289.25A71.94 71.94 0 0 0 223.8 296.13M202.63 289.25L200.29 293.86M184.7 283.38A77.11 77.11 0 0 0 217.96 300.26M184.7 283.38L181.32 287.28M173.15 279.13A82.28 82.28 0 0 0 190.55 294.21M173.15 279.13L169.25 282.53M162.14 273.16A87.45 87.45 0 0 0 177.55 290.86M162.14 273.16L157.82 276M155.35 272.04A92.62 92.62 0 0 0 160.49 279.84M155.35 272.04L150.9 274.66M148.47 270.28A97.79 97.79 0 0 0 153.54 278.9M148.47 270.28L143.89 272.67M140.82 266.25A102.96 102.96 0 0 0 147.39 278.86M140.82 266.25L136.08 268.31M132.09 257.67A108.13 108.13 0 0 0 141.16 278.47M132.09 257.67L127.16 259.23M124.24 248A113.3 113.3 0 0 0 131.22 270.1M124.24 248L119.18 249.05M117.88 241.59A118.47 118.47 0 0 0 120.94 256.41M117.88 241.59L112.76 242.31M111.79 232.7A123.64 123.64 0 0 0 114.48 251.81M111.79 232.7L106.63 233.02M106.48 220.37A128.81 128.81 0 0 0 108.03 245.58M106.48 220.37L101.31 220.18M102.41 207.25A133.98 133.98 0 0 0 101.46 233.16M102.41 207.25L97.29 206.56M99.52 194.22A139.15 139.15 0 0 0 96.18 219.06M99.52 194.22L94.48 193.07M96.33 185.82A144.32 144.32 0 0 0 93.01 200.4M96.33 185.82L91.35 184.42M92.59 180.26A149.49 149.49 0 0 0 90.23 188.61M92.59 180.26L87.66 178.71M88.86 175.05A154.66 154.66 0 0 0 86.55 182.39M88.86 175.05L83.97 173.38M84.85 170.88A159.83 159.83 0 0 0 83.13 175.9M84.85 170.88L79.98 169.13M83.13 175.9L78.21 174.31M86.55 182.39L76.62 179.54M90.23 188.61L75.19 184.82M93.01 200.4L82.82 198.63M83.53 194.85A154.66 154.66 0 0 0 82.21 202.43M83.53 194.85L78.46 193.84M79 191.25A159.83 159.83 0 0 0 77.96 196.44M79 191.25L73.94 190.15M77.96 196.44L72.87 195.52M82.21 202.43L71.98 200.92M96.18 219.06L85.85 218.61M86.1 214.28A149.49 149.49 0 0 0 85.73 222.94M86.1 214.28L80.95 213.9M81.27 210.07A154.66 154.66 0 0 0 80.72 217.74M81.27 210.07L76.13 209.57M76.41 206.93A159.83 159.83 0 0 0 75.89 212.21M76.41 206.93L71.27 206.34M75.89 212.21L70.74 211.79M80.72 217.74L70.39 217.25M85.73 222.94L70.22 222.72M101.46 233.16L80.82 234.4M80.64 230.56A154.66 154.66 0 0 0 81.1 238.24M80.64 230.56L75.47 230.74M75.4 228.09A159.83 159.83 0 0 0 75.59 233.39M75.4 228.09L70.23 228.19M75.59 233.39L70.42 233.66M81.1 238.24L70.8 239.12M108.03 245.58L82.51 249.69M81.94 245.89A154.66 154.66 0 0 0 83.17 253.48M81.94 245.89L76.82 246.58M76.49 243.95A159.83 159.83 0 0 0 77.2 249.21M76.49 243.95L71.35 244.56M77.2 249.21L72.09 249.99M83.17 253.48L73 255.38M114.48 251.81L74.1 260.74M120.94 256.41L81.05 267.34M80.37 264.78A159.83 159.83 0 0 0 81.78 269.89M80.37 264.78L75.37 266.07M81.78 269.89L76.81 271.34M131.22 270.1L98.01 284.47M95.22 277.58A149.49 149.49 0 0 0 101.13 291.22M95.22 277.58L90.38 279.39M89.08 275.77A154.66 154.66 0 0 0 91.78 282.98M89.08 275.77L84.19 277.47M83.35 274.96A159.83 159.83 0 0 0 85.08 279.97M83.35 274.96L78.43 276.57M85.08 279.97L80.23 281.74M91.78 282.98L82.19 286.85M101.13 291.22L96.49 293.51M94.83 290.04A154.66 154.66 0 0 0 98.24 296.94M94.83 290.04L90.14 292.21M89.05 289.8A159.83 159.83 0 0 0 91.27 294.61M89.05 289.8L84.32 291.89M91.27 294.61L86.62 296.85M98.24 296.94L89.08 301.74M141.16 278.47L91.7 306.55M147.39 278.86L94.48 311.26M153.54 278.9L97.42 315.88M160.49 279.84L106.27 319.56M104.72 317.41A159.83 159.83 0 0 0 107.86 321.69M104.72 317.41L100.5 320.4M107.86 321.69L103.74 324.81M177.55 290.86L143.47 329.73M136.63 323.32A139.15 139.15 0 0 0 150.72 335.67M136.63 323.32L132.97 326.97M129.85 323.74A144.32 144.32 0 0 0 136.19 330.1M129.85 323.74L126.08 327.28M123.16 324.07A149.49 149.49 0 0 0 129.09 330.4M123.16 324.07L119.29 327.49M116.77 324.57A154.66 154.66 0 0 0 121.87 330.34M116.77 324.57L112.82 327.9M111.13 325.86A159.83 159.83 0 0 0 114.54 329.92M111.13 325.86L107.12 329.12M114.54 329.92L110.63 333.31M121.87 330.34L114.29 337.38M129.09 330.4L118.08 341.32M136.19 330.1L122 345.14M150.72 335.67L144.44 343.89M141.03 341.2A149.49 149.49 0 0 0 147.93 346.47M141.03 341.2L137.78 345.22M134.82 342.76A154.66 154.66 0 0 0 140.8 347.61M134.82 342.76L131.46 346.69M129.46 344.96A159.83 159.83 0 0 0 133.5 348.4M129.46 344.96L126.04 348.83M133.5 348.4L130.21 352.38M140.8 347.61L134.48 355.8M147.93 346.47L138.87 359.06M190.55 294.21L148.46 359.35M146.25 357.89A159.83 159.83 0 0 0 150.7 360.77M146.25 357.89L143.37 362.18M150.7 360.77L147.96 365.15M217.96 300.26L208.71 340.57M204.88 339.62A118.47 118.47 0 0 0 212.57 341.39M204.88 339.62L203.55 344.62M199.58 343.5A123.64 123.64 0 0 0 207.57 345.61M199.58 343.5L198.09 348.45M193.96 347.13A128.81 128.81 0 0 0 202.26 349.63M193.96 347.13L192.3 352.03M187.98 350.48A133.98 133.98 0 0 0 196.67 353.42M187.98 350.48L186.16 355.32M181.61 353.51A139.15 139.15 0 0 0 190.78 356.97M181.61 353.51L179.61 358.29M174.68 356.12A144.32 144.32 0 0 0 184.62 360.27M174.68 356.12L172.52 360.81M166.95 358.1A149.49 149.49 0 0 0 178.2 363.29M166.95 358.1L164.58 362.7M160.06 360.28A154.66 154.66 0 0 0 169.19 364.96M160.06 360.28L157.55 364.8M155.24 363.49A159.83 159.83 0 0 0 159.88 366.07M155.24 363.49L152.66 367.97M159.88 366.07L157.44 370.63M169.19 364.96L166.98 369.64M164.59 368.49A159.83 159.83 0 0 0 169.39 370.75M164.59 368.49L162.31 373.13M169.39 370.75L167.26 375.46M178.2 363.29L172.28 377.63M184.62 360.27L177.37 379.64M190.78 356.97L182.53 381.47M196.67 353.42L187.74 383.13M202.26 349.63L193.01 384.61M207.57 345.61L198.32 385.93M212.57 341.39L203.68 387.06M223.8 296.13L209.06 388.02M240.52 291.66L245.88 358.65M236.25 359.08A133.98 133.98 0 0 0 255.47 357.54M236.25 359.08L236.29 364.25M231.81 364.21A139.15 139.15 0 0 0 240.75 364.14M231.81 364.21L231.69 369.38M227.21 369.2A144.32 144.32 0 0 0 236.18 369.42M227.21 369.2L226.92 374.36M222.59 374.06A149.49 149.49 0 0 0 231.25 374.54M222.59 374.06L222.16 379.21M218.33 378.84A154.66 154.66 0 0 0 225.99 379.49M218.33 378.84L217.76 383.98M215.13 383.66A159.83 159.83 0 0 0 220.4 384.24M215.13 383.66L214.48 388.79M220.4 384.24L219.92 389.39M225.99 379.49L225.38 389.81M231.25 374.54L230.84 390.04M236.18 369.42L236.32 390.1M240.75 364.14L241.79 389.97M255.47 357.54L257.82 372.87M252.29 373.61A149.49 149.49 0 0 0 263.31 371.92M252.29 373.61L252.88 378.75M249.05 379.14A154.66 154.66 0 0 0 256.69 378.26M249.05 379.14L249.51 384.29M246.87 384.5A159.83 159.83 0 0 0 252.15 384.03M246.87 384.5L247.25 389.66M252.15 384.03L252.7 389.17M256.69 378.26L258.13 388.5M263.31 371.92L265.26 382.08M262.65 382.56A159.83 159.83 0 0 0 267.86 381.56M262.65 382.56L263.54 387.65M267.86 381.56L268.91 386.62M249.78 284.95L274.25 385.41M250.37 279.45L279.54 384.03M253.61 272.94L288.9 364.61M282.49 366.91A149.49 149.49 0 0 0 295.21 362.02M282.49 366.91L285.76 376.72M283.24 377.54A159.83 159.83 0 0 0 288.26 375.86M283.24 377.54L284.79 382.47M288.26 375.86L289.98 380.74M295.21 362.02L297.28 366.75M293.74 368.25A154.66 154.66 0 0 0 300.79 365.17M293.74 368.25L295.7 373.04M293.23 374.02A159.83 159.83 0 0 0 298.14 372.02M293.23 374.02L295.11 378.84M298.14 372.02L300.18 376.77M300.79 365.17L305.17 374.53M268.29 257.19L320.25 307.57M311.83 315.45A118.47 118.47 0 0 0 327.86 298.92M311.83 315.45L315.17 319.39M312.01 321.98A123.64 123.64 0 0 0 318.24 316.7M312.01 321.98L315.22 326.04M311.86 328.61A128.81 128.81 0 0 0 318.5 323.35M311.86 328.61L314.94 332.77M311.38 335.31A133.98 133.98 0 0 0 318.41 330.11M311.38 335.31L314.32 339.57M310.6 342.05A139.15 139.15 0 0 0 317.96 336.97M310.6 342.05L313.4 346.39M309.59 348.77A144.32 144.32 0 0 0 317.14 343.91M309.59 348.77L312.26 353.2M308.51 355.38A149.49 149.49 0 0 0 315.94 350.91M308.51 355.38L311.05 359.89M307.67 361.73A154.66 154.66 0 0 0 314.37 357.96M307.67 361.73L310.09 366.3M307.74 367.52A159.83 159.83 0 0 0 312.42 365.04M307.74 367.52L310.09 372.13M312.42 365.04L314.92 369.56M314.37 357.96L319.67 366.84M315.94 350.91L324.32 363.96M317.14 343.91L328.88 360.93M317.96 336.97L333.33 357.75M318.41 330.11L337.67 354.42M318.5 323.35L341.91 350.95M318.24 316.7L346.02 347.34M327.86 298.92L348.08 315.02M339.83 324.5A144.32 144.32 0 0 0 355.47 304.87M339.83 324.5L343.58 328.06M339.22 332.46A149.49 149.49 0 0 0 347.76 323.48M339.22 332.46L350.01 343.6M347.76 323.48L351.65 326.88M348.21 330.69A154.66 154.66 0 0 0 354.96 322.96M348.21 330.69L351.99 334.22M350.16 336.14A159.83 159.83 0 0 0 353.78 332.26M350.16 336.14L353.88 339.73M353.78 332.26L357.62 335.73M354.96 322.96L358.96 326.24M357.27 328.27A159.83 159.83 0 0 0 360.62 324.17M357.27 328.27L361.22 331.61M360.62 324.17L364.68 327.37M355.47 304.87L364.09 310.58M361.18 314.81A154.66 154.66 0 0 0 366.85 306.26M361.18 314.81L365.39 317.81M363.84 319.96A159.83 159.83 0 0 0 366.91 315.64M363.84 319.96L368 323.02M366.91 315.64L371.17 318.57M366.85 306.26L371.25 308.98M369.84 311.22A159.83 159.83 0 0 0 372.63 306.71M369.84 311.22L374.2 314.01M372.63 306.71L377.07 309.35M274.85 235.21L355.01 255.65M353.49 261.07A123.64 123.64 0 0 0 356.27 250.17M353.49 261.07L358.44 262.57M356.79 267.61A128.81 128.81 0 0 0 359.88 257.46M356.79 267.61L361.67 269.32M360.16 273.42A133.98 133.98 0 0 0 363.05 265.17M360.16 273.42L364.98 275.29M363.3 279.43A139.15 139.15 0 0 0 366.53 271.09M363.3 279.43L368.06 281.45M366.25 285.55A144.32 144.32 0 0 0 369.75 277.29M366.25 285.55L370.94 287.72M369.07 291.63A149.49 149.49 0 0 0 372.7 283.76M369.07 291.63L373.7 293.93M371.94 297.36A154.66 154.66 0 0 0 375.37 290.47M371.94 297.36L376.51 299.77M375.26 302.11A159.83 159.83 0 0 0 377.73 297.42M375.26 302.11L379.79 304.6M377.73 297.42L382.34 299.76M375.37 290.47L384.74 294.84M372.7 283.76L386.97 289.84M369.75 277.29L389.03 284.77M366.53 271.09L390.93 279.64M363.05 265.17L392.65 274.44M359.88 257.46L389.9 265.25M389.22 267.81A159.83 159.83 0 0 0 390.55 262.68M389.22 267.81L394.2 269.2M390.55 262.68L395.57 263.9M356.27 250.17L396.77 258.56M270.89 223.04L363.8 217.66M363.98 222.37A128.81 128.81 0 0 0 363.44 212.97M363.98 222.37L369.15 222.26M369.16 227.6A133.98 133.98 0 0 0 368.93 216.92M369.16 227.6L374.33 227.7M374.05 234.18A139.15 139.15 0 0 0 374.3 221.21M374.05 234.18L379.21 234.52M378.67 240.78A144.32 144.32 0 0 0 379.49 228.24M378.67 240.78L383.81 241.34M383.1 246.87A149.49 149.49 0 0 0 384.31 235.79M383.1 246.87L388.21 247.63M387.6 251.42A154.66 154.66 0 0 0 388.72 243.81M387.6 251.42L397.79 253.18M388.72 243.81L393.86 244.44M393.51 247.07A159.83 159.83 0 0 0 394.15 241.8M393.51 247.07L398.63 247.78M394.15 241.8L399.3 242.35M384.31 235.79L399.78 236.89M379.49 228.24L394.99 228.58M394.91 231.23A159.83 159.83 0 0 0 395.03 225.93M394.91 231.23L400.08 231.43M395.03 225.93L400.2 225.96M374.3 221.21L400.14 220.49M368.93 216.92L399.89 215.02M363.44 212.97L399.47 209.56M265.34 219.96L387.66 199.1M388.26 202.9A154.66 154.66 0 0 0 386.96 195.32M388.26 202.9L393.37 202.16M393.73 204.78A159.83 159.83 0 0 0 392.97 199.54M393.73 204.78L398.86 204.13M392.97 199.54L398.08 198.71M386.96 195.32L397.11 193.32M232.27 199.86L225.71 143.37M235.22 142.82A82.28 82.28 0 0 0 216.32 145.02M235.22 142.82L235.22 137.65M244.96 138.2A87.45 87.45 0 0 0 225.48 138.19M244.96 138.2L245.54 133.06M255.7 134.78A92.62 92.62 0 0 0 235.26 132.48M255.7 134.78L256.84 129.73M266.08 132.31A97.79 97.79 0 0 0 247.39 128.07M266.08 132.31L267.72 127.41M274.66 130A102.96 102.96 0 0 0 260.61 125.32M274.66 130L276.64 125.23M285.85 129.57A108.13 108.13 0 0 0 267.06 121.77M285.85 129.57L288.27 125M299.29 131.67A113.3 113.3 0 0 0 276.56 119.62M299.29 131.67L302.22 127.41M311.93 134.83A118.47 118.47 0 0 0 291.8 121.02M311.93 134.83L315.27 130.89M324.16 139.23A123.64 123.64 0 0 0 305.61 123.47M324.16 139.23L327.88 135.64M338.12 147.64A128.81 128.81 0 0 0 316.25 124.98M338.12 147.64L342.25 144.53M350.33 156.58A133.98 133.98 0 0 0 332.91 133.43M350.33 156.58L354.77 153.93M362.51 168.92A139.15 139.15 0 0 0 345.29 139.99M362.51 168.92L367.24 166.83M372.28 179.95A144.32 144.32 0 0 0 360.94 154.27M372.28 179.95L377.19 178.34M379.34 185.45A149.49 149.49 0 0 0 374.69 171.33M379.34 185.45L384.32 184.08M385.3 187.81A154.66 154.66 0 0 0 383.26 180.39M385.3 187.81L390.31 186.56M390.93 189.14A159.83 159.83 0 0 0 389.65 183.99M390.93 189.14L395.97 187.97M389.65 183.99L394.65 182.66M383.26 180.39L393.15 177.4M374.69 171.33L379.51 169.47M380.85 173.08A154.66 154.66 0 0 0 378.08 165.9M380.85 173.08L385.72 171.34M386.59 173.84A159.83 159.83 0 0 0 384.81 168.85M386.59 173.84L391.49 172.19M384.81 168.85L389.64 167.03M378.08 165.9L387.63 161.94M360.94 154.27L365.45 151.73M369.75 159.97A149.49 149.49 0 0 0 360.63 143.78M369.75 159.97L374.41 157.71M376.04 161.2A154.66 154.66 0 0 0 372.69 154.27M376.04 161.2L385.46 156.92M372.69 154.27L377.28 151.9M378.48 154.27A159.83 159.83 0 0 0 376.05 149.56M378.48 154.27L383.11 151.98M376.05 149.56L380.61 147.11M360.63 143.78L364.97 140.96M367.69 145.31A154.66 154.66 0 0 0 362.11 136.71M367.69 145.31L372.12 142.65M373.47 144.93A159.83 159.83 0 0 0 370.73 140.39M373.47 144.93L377.94 142.33M370.73 140.39L375.12 137.65M362.11 136.71L366.35 133.75M367.85 135.94A159.83 159.83 0 0 0 364.82 131.59M367.85 135.94L372.14 133.06M364.82 131.59L369.01 128.56M345.29 139.99L365.74 124.18M332.91 133.43L340.45 126.36M346.39 133.09A144.32 144.32 0 0 0 334.11 120.01M346.39 133.09L362.32 119.91M334.11 120.01L337.66 116.24M342.08 120.58A149.49 149.49 0 0 0 333.06 112.09M342.08 120.58L345.78 116.97M349.3 120.7A154.66 154.66 0 0 0 342.13 113.36M349.3 120.7L353.12 117.21M354.89 119.18A159.83 159.83 0 0 0 351.31 115.27M354.89 119.18L358.76 115.75M351.31 115.27L355.07 111.71M342.13 113.36L345.71 109.63M347.61 111.48A159.83 159.83 0 0 0 343.78 107.81M347.61 111.48L351.24 107.8M343.78 107.81L347.29 104.02M333.06 112.09L343.21 100.37M316.25 124.98L339.02 96.85M305.61 123.47L323.28 97.97M326.41 100.2A154.66 154.66 0 0 0 320.09 95.82M326.41 100.2L329.46 96.02M331.59 97.61A159.83 159.83 0 0 0 327.31 94.48M331.59 97.61L334.71 93.48M327.31 94.48L330.29 90.25M320.09 95.82L325.76 87.17M291.8 121.02L309.09 89.23M313.55 91.76A154.66 154.66 0 0 0 304.54 86.86M313.55 91.76L316.17 87.3M318.45 88.66A159.83 159.83 0 0 0 313.88 85.98M318.45 88.66L321.14 84.25M313.88 85.98L316.42 81.48M304.54 86.86L306.86 82.24M309.22 83.44A159.83 159.83 0 0 0 304.48 81.07M309.22 83.44L311.61 78.86M304.48 81.07L306.72 76.41M276.56 119.62L291.66 81.12M295.23 82.56A154.66 154.66 0 0 0 288.06 79.76M295.23 82.56L297.23 77.8M299.67 78.85A159.83 159.83 0 0 0 294.78 76.79M299.67 78.85L301.75 74.12M294.78 76.79L296.71 71.99M288.06 79.76L291.6 70.04M267.06 121.77L282.29 72.37M284.82 73.17A159.83 159.83 0 0 0 279.76 71.61M284.82 73.17L286.43 68.25M279.76 71.61L281.2 66.64M260.61 125.32L275.92 65.2M247.39 128.07L253.83 76.78M261.19 77.89A149.49 149.49 0 0 0 246.43 76.03M261.19 77.89L262.08 72.79M265.86 73.51A154.66 154.66 0 0 0 258.29 72.17M265.86 73.51L266.89 68.44M269.48 68.99A159.83 159.83 0 0 0 264.29 67.94M269.48 68.99L270.59 63.94M264.29 67.94L265.23 62.86M258.29 72.17L259.83 61.95M246.43 76.03L246.82 70.88M250.65 71.21A154.66 154.66 0 0 0 242.98 70.64M250.65 71.21L251.17 66.07M253.81 66.36A159.83 159.83 0 0 0 248.53 65.83M253.81 66.36L254.41 61.22M248.53 65.83L248.96 60.68M242.98 70.64L243.5 60.31M235.26 132.48L235.3 65.27M237.95 65.29A159.83 159.83 0 0 0 232.64 65.29M237.95 65.29L238.03 60.12M232.64 65.29L232.56 60.12M225.48 138.19L218.59 76.54M225.38 75.93A149.49 149.49 0 0 0 211.83 77.45M225.38 75.93L224.7 65.62M227.35 65.46A159.83 159.83 0 0 0 222.06 65.81M227.35 65.46L227.09 60.3M222.06 65.81L221.63 60.66M211.83 77.45L211.03 72.34M214.83 71.79A154.66 154.66 0 0 0 207.23 72.99M214.83 71.79L214.15 66.66M216.78 66.33A159.83 159.83 0 0 0 211.53 67.03M216.78 66.33L216.19 61.2M211.53 67.03L210.76 61.92M207.23 72.99L205.36 62.82M216.32 145.02L198.52 69.54M201.1 68.95A159.83 159.83 0 0 0 195.94 70.17M201.1 68.95L200 63.9M195.94 70.17L194.67 65.15M229.58 205.66L189.39 66.59M230.3 210.85L183.25 73.95M185.76 73.11A159.83 159.83 0 0 0 180.75 74.83M185.76 73.11L184.16 68.19M180.75 74.83L178.99 69.97M226.96 219.61L140.9 162.29M144.9 156.67A113.3 113.3 0 0 0 137.25 168.15M144.9 156.67L140.78 153.55M147.49 145.46A118.47 118.47 0 0 0 134.81 162.19M147.49 145.46L143.66 141.99M151.91 133.73A123.64 123.64 0 0 0 136.23 150.99M151.91 133.73L148.42 129.91M157.27 122.54A128.81 128.81 0 0 0 140.27 138.03M157.27 122.54L154.14 118.42M162.84 112.34A133.98 133.98 0 0 0 145.95 125.18M162.84 112.34L160.05 107.99M167.1 103.75A139.15 139.15 0 0 0 153.27 112.63M167.1 103.75L164.57 99.25M171.18 95.76A144.32 144.32 0 0 0 158.14 103.07M171.18 95.76L168.89 91.12M173.93 88.74A149.49 149.49 0 0 0 163.94 93.69M173.93 88.74L171.81 84.03M175.34 82.49A154.66 154.66 0 0 0 168.33 85.65M175.34 82.49L173.34 77.73M175.79 76.72A159.83 159.83 0 0 0 170.91 78.77M175.79 76.72L173.87 71.92M170.91 78.77L168.83 74.04M168.33 85.65L163.85 76.32M163.94 93.69L159.01 84.6M161.35 83.36A159.83 159.83 0 0 0 156.69 85.88M161.35 83.36L158.96 78.77M156.69 85.88L154.15 81.38M158.14 103.07L149.86 89.96M152.12 88.56A159.83 159.83 0 0 0 147.63 91.39M152.12 88.56L149.43 84.15M147.63 91.39L144.8 87.07M153.27 112.63L141.09 95.91M143.25 94.37A159.83 159.83 0 0 0 138.96 97.49M143.25 94.37L140.27 90.14M138.96 97.49L135.85 93.36M145.95 125.18L132.17 109.76M136.05 106.4A154.66 154.66 0 0 0 128.4 113.24M136.05 106.4L132.74 102.43M134.78 100.75A159.83 159.83 0 0 0 130.72 104.15M134.78 100.75L131.54 96.73M130.72 104.15L127.34 100.24M128.4 113.24L124.83 109.5M126.76 107.68A159.83 159.83 0 0 0 122.93 111.34M126.76 107.68L123.26 103.88M122.93 111.34L119.3 107.66M140.27 138.03L117.41 117.07M119.22 115.13A159.83 159.83 0 0 0 115.64 119.03M119.22 115.13L115.47 111.57M115.64 119.03L111.77 115.6M136.23 150.99L111.4 132.4M114.54 128.35A154.66 154.66 0 0 0 108.39 136.56M114.54 128.35L110.51 125.11M112.18 123.06A159.83 159.83 0 0 0 108.87 127.19M112.18 123.06L108.21 119.76M108.87 127.19L104.78 124.03M108.39 136.56L104.16 133.6M105.69 131.44A159.83 159.83 0 0 0 102.66 135.78M105.69 131.44L101.5 128.41M102.66 135.78L98.37 132.89M134.81 162.19L95.39 137.48M137.25 168.15L92.56 142.16M230.33 216.48L232.79 220.83" stroke="#2a2a2a" stroke-width="0.5" fill="none" stroke-linecap="square"/>
<circle cx="79.8" cy="169.06" r="1.25" fill="#F7941D"/><circle cx="78.02" cy="174.24" r="1.25" fill="#F7941D"/><circle cx="76.42" cy="179.48" r="1.25" fill="#F7941D"/><circle cx="75" cy="184.77" r="1.25" fill="#F7941D"/><circle cx="73.75" cy="190.11" r="1.25" fill="#F7941D"/><circle cx="72.68" cy="195.48" r="1.25" fill="#F7941D"/><circle cx="71.78" cy="200.89" r="1.25" fill="#F7941D"/><circle cx="71.07" cy="206.32" r="1.25" fill="#F7941D"/><circle cx="70.54" cy="211.77" r="1.25" fill="#F7941D"/><circle cx="70.19" cy="217.24" r="1.25" fill="#F7941D"/><circle cx="70.02" cy="222.72" r="1.25" fill="#F7941D"/><circle cx="70.03" cy="228.19" r="1.1" fill="#fff" stroke="#F9B872" stroke-width="0.35"/><circle cx="70.22" cy="233.67" r="1.25" fill="#F7941D"/><circle cx="70.6" cy="239.14" r="1.25" fill="#F7941D"/><circle cx="71.89" cy="250.02" r="1.25" fill="#F7941D"/><circle cx="72.81" cy="255.42" r="1.25" fill="#F7941D"/><circle cx="73.9" cy="260.79" r="1.25" fill="#F7941D"/><circle cx="78.24" cy="276.63" r="1.25" fill="#F7941D"/><circle cx="80.04" cy="281.81" r="1.25" fill="#F7941D"/><circle cx="82" cy="286.92" r="1.25" fill="#F7941D"/><circle cx="84.14" cy="291.97" r="1.25" fill="#F7941D"/><circle cx="88.9" cy="301.83" r="1.25" fill="#F7941D"/><circle cx="91.53" cy="306.64" r="1.25" fill="#F7941D"/><circle cx="94.31" cy="311.36" r="1.25" fill="#F7941D"/><circle cx="97.25" cy="315.99" r="1.25" fill="#F7941D"/><circle cx="106.96" cy="329.24" r="1.25" fill="#F7941D"/><circle cx="110.48" cy="333.44" r="1.25" fill="#F7941D"/><circle cx="125.91" cy="348.98" r="1.25" fill="#F7941D"/><circle cx="130.08" cy="352.54" r="1.25" fill="#F7941D"/><circle cx="134.36" cy="355.95" r="1.25" fill="#F7941D"/><circle cx="138.76" cy="359.23" r="1.25" fill="#F7941D"/><circle cx="143.26" cy="362.35" r="1.25" fill="#F7941D"/><circle cx="147.86" cy="365.32" r="1.25" fill="#F7941D"/><circle cx="162.22" cy="373.31" r="1.25" fill="#F7941D"/><circle cx="167.17" cy="375.64" r="1.1" fill="#fff" stroke="#F9B872" stroke-width="0.35"/><circle cx="172.2" cy="377.82" r="1.25" fill="#F7941D"/><circle cx="182.47" cy="381.66" r="1.25" fill="#F7941D"/><circle cx="187.69" cy="383.32" r="1.25" fill="#F7941D"/><circle cx="192.96" cy="384.81" r="1.25" fill="#F7941D"/><circle cx="198.28" cy="386.12" r="1.25" fill="#F7941D"/><circle cx="203.64" cy="387.26" r="1.25" fill="#F7941D"/><circle cx="209.03" cy="388.21" r="1.1" fill="#fff" stroke="#F9B872" stroke-width="0.35"/><circle cx="214.46" cy="388.99" r="1.25" fill="#F7941D"/><circle cx="219.9" cy="389.59" r="1.25" fill="#F7941D"/><circle cx="225.37" cy="390.01" r="1.25" fill="#F7941D"/><circle cx="230.84" cy="390.24" r="1.25" fill="#F7941D"/><circle cx="241.79" cy="390.17" r="1.25" fill="#F7941D"/><circle cx="247.26" cy="389.86" r="1.25" fill="#F7941D"/><circle cx="252.72" cy="389.37" r="1.25" fill="#F7941D"/><circle cx="263.57" cy="387.85" r="1.25" fill="#F7941D"/><circle cx="268.95" cy="386.82" r="1.25" fill="#F7941D"/><circle cx="274.3" cy="385.61" r="1.25" fill="#F7941D"/><circle cx="279.6" cy="384.22" r="1.25" fill="#F7941D"/><circle cx="387.15" cy="289.92" r="1.25" fill="#F7941D"/><circle cx="394.39" cy="269.25" r="1.1" fill="#fff" stroke="#F9B872" stroke-width="0.35"/><circle cx="399.06" cy="204.1" r="1.1" fill="#fff" stroke="#F9B872" stroke-width="0.35"/><circle cx="398.27" cy="198.68" r="1.1" fill="#fff" stroke="#F9B872" stroke-width="0.35"/><circle cx="270.63" cy="63.75" r="1.25" fill="#F7941D"/><circle cx="265.26" cy="62.66" r="1.25" fill="#F7941D"/><circle cx="259.86" cy="61.75" r="1.25" fill="#F7941D"/><circle cx="254.43" cy="61.02" r="1.25" fill="#F7941D"/><circle cx="248.98" cy="60.48" r="1.25" fill="#F7941D"/><circle cx="243.51" cy="60.11" r="1.25" fill="#F7941D"/><circle cx="227.08" cy="60.1" r="1.25" fill="#F7941D"/><circle cx="199.96" cy="63.7" r="1.1" fill="#fff" stroke="#F9B872" stroke-width="0.35"/><circle cx="194.62" cy="64.96" r="1.1" fill="#fff" stroke="#F9B872" stroke-width="0.35"/><circle cx="189.34" cy="66.39" r="1.25" fill="#F7941D"/>
</g>
<rect x="81.3" y="441.3" width="57.8" height="107" fill="none" stroke="#f0f0f0" stroke-width="0.5"/><text x="111" y="452.3" font-size="6.8" font-weight="bold" text-anchor="middle" fill="#111">Origin</text><path d="M83 455.5H137.3" stroke="#9a9a9a" stroke-width="0.5"/><rect x="83.4" y="458.3" width="8.6" height="8.2" fill="#FB8072" stroke="#c9c9c9" stroke-width="0.35"/><text x="96.5" y="464.5" font-size="6.2" fill="#161616" stroke="#161616" stroke-width="0.1">Human</text><rect x="83.4" y="471.23" width="8.6" height="8.2" fill="#FFFFB3" stroke="#c9c9c9" stroke-width="0.35"/><text x="96.5" y="477.43" font-size="6.2" fill="#161616" stroke="#161616" stroke-width="0.1">Dog</text><rect x="83.4" y="484.16" width="8.6" height="8.2" fill="#8DD3C7" stroke="#c9c9c9" stroke-width="0.35"/><text x="96.5" y="490.36" font-size="6.2" fill="#161616" stroke="#161616" stroke-width="0.1">Chicken</text><rect x="83.4" y="497.09" width="8.6" height="8.2" fill="#FDB462" stroke="#c9c9c9" stroke-width="0.35"/><text x="96.5" y="503.29" font-size="6.2" fill="#161616" stroke="#161616" stroke-width="0.1">Pig</text><rect x="83.4" y="510.02" width="8.6" height="8.2" fill="#B3DE69" stroke="#c9c9c9" stroke-width="0.35"/><text x="96.5" y="516.22" font-size="6.2" fill="#161616" stroke="#161616" stroke-width="0.1">Dairy</text><rect x="83.4" y="522.95" width="8.6" height="8.2" fill="#80B1D3" stroke="#c9c9c9" stroke-width="0.35"/><text x="96.5" y="529.15" font-size="6.2" fill="#161616" stroke="#161616" stroke-width="0.1">Soy</text><rect x="83.4" y="535.88" width="8.6" height="8.2" fill="#BEBADA" stroke="#c9c9c9" stroke-width="0.35"/><text x="96.5" y="542.08" font-size="6.2" fill="#161616" stroke="#161616" stroke-width="0.1">M.primigenius</text>
<path d="M181.6 453.3H261" stroke="#1f1f1f" stroke-width="0.9"/><path d="M181.6 475.3H261" stroke="#1f1f1f" stroke-width="0.9"/><path d="M181.6 536.0H261" stroke="#1f1f1f" stroke-width="0.9"/><g font-size="7.9" fill="#111" stroke="#111" stroke-width="0.12" text-anchor="middle"><text x="199" y="467.6">Host</text><text x="238.8" y="462.4">Average #</text><text x="238.8" y="472.8">of VGs</text><text x="199" y="484.8">Chicken</text><text x="238.8" y="484.8">1.5</text><text x="199" y="496.9">Dairy</text><text x="238.8" y="496.9">1.3</text><text x="199" y="509.3">Dog</text><text x="238.8" y="509.3">1.5</text><text x="199" y="521.8">Human</text><text x="238.8" y="521.8">3.4</text><text x="199" y="533.7">Pig</text><text x="238.8" y="533.7">1.0</text></g>
<path d="M285.7 453.3H373.1" stroke="#1f1f1f" stroke-width="0.9"/><path d="M285.7 475.3H373.1" stroke="#1f1f1f" stroke-width="0.9"/><path d="M285.7 536.0H373.1" stroke="#1f1f1f" stroke-width="0.9"/><g font-size="7.9" fill="#111" stroke="#111" stroke-width="0.12" text-anchor="middle"><text x="309" y="467.6">Host</text><text x="353.2" y="462.4">Average #</text><text x="353.2" y="472.8">of RGs</text><text x="309" y="484.8">Chicken</text><text x="353.2" y="484.8">8.3</text><text x="309" y="496.9">Dairy</text><text x="353.2" y="496.9">3.3</text><text x="309" y="509.3">Dog</text><text x="353.2" y="509.3">5.0</text><text x="309" y="521.8">Human</text><text x="353.2" y="521.8">11.8</text><text x="309" y="533.7">Pig</text><text x="353.2" y="533.7">10.0</text></g>
</svg>
</body></html>
